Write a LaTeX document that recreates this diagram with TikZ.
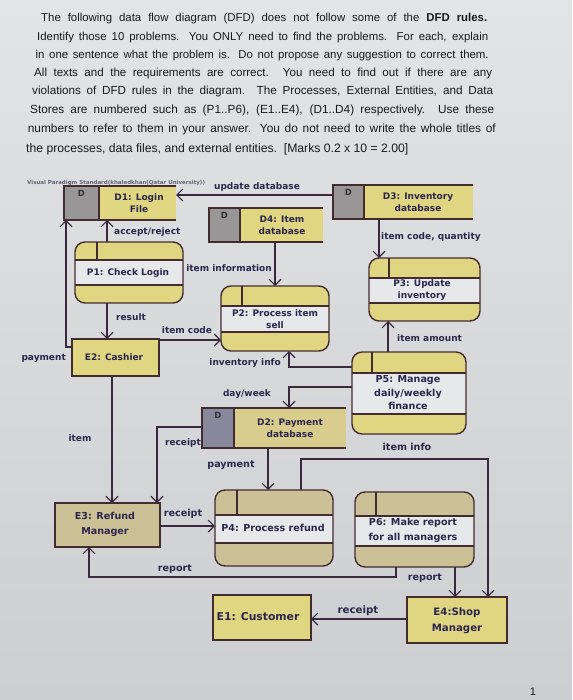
\documentclass[tikz,border=0pt]{standalone}
\usepackage{fontspec}
\setmainfont{Liberation Sans}
\newfontfamily\dfdfont{DejaVu Sans}
\usetikzlibrary{arrows.meta,fit}
\definecolor{pagetop}{RGB}{226,228,229}
\definecolor{pagebot}{RGB}{204,206,209}
\definecolor{hdrc}{RGB}{24,24,30}
\definecolor{linec}{RGB}{58,40,62}
\definecolor{labc}{RGB}{44,38,78}
\definecolor{boxl}{RGB}{66,44,48}
\definecolor{yel}{RGB}{224,213,128}
\definecolor{yel2}{RGB}{216,205,140}
\definecolor{tanc}{RGB}{204,193,150}
\definecolor{midc}{RGB}{230,232,234}
\definecolor{dgray}{RGB}{152,150,150}
\definecolor{dgray2}{RGB}{136,136,156}
\tikzset{
 hdr/.style={font=\fontsize{#1}{14}\selectfont, text=hdrc, inner sep=0, anchor=base west},
 lbl/.style={font=\dfdfont\bfseries\fontsize{9}{12}\selectfont, text=labc, inner sep=0},
 lblL/.style={font=\dfdfont\bfseries\fontsize{9.6}{15}\selectfont, text=labc, inner sep=0},
 lblX/.style={font=\dfdfont\bfseries\fontsize{10.2}{16}\selectfont, text=labc, inner sep=0},
 ntext/.style={lbl, align=center},
 ntextL/.style={lblL, align=center},
 ntextX/.style={lblX, align=center},
 flow/.style={draw=linec, line width=1.1pt, -{Straight Barb[length=6pt,width=12pt]}},
 boxline/.style={draw=boxl, line width=1.4pt},
 area/.style={inner sep=0, outer sep=0},
}
\newcommand\dfdent[6]{\node[area, boxline, fill=#6, fit={(#2,#3) (#4,#5)}] (#1) {};}
\newcommand\dfdstore[8]{%
 \node[area, fill=#8, fit={(#2,#3) (#4,#5)}] (#1) {};
 \fill[#7] (#2,#3) rectangle (#6,#5);
 \draw[boxline] (#4,#3) -- (#2,#3) -- (#2,#5) -- (#4,#5) (#6,#3) -- (#6,#5);
 \node[lbl, font=\dfdfont\bfseries\fontsize{8.5}{9}\selectfont, text=black!80] (#1d) at ({(#2+#6)/2},{#3+7}) {D};
}
\newcommand\dfdproc[9]{%
 \node[area, fit={(#2,#3) (#4,#5)}] (#1) {};
 \fill[#9, rounded corners=10pt] (#2,#3) rectangle (#4,#5);
 \fill[midc] (#2,#6) rectangle (#4,#7);
 \draw[boxline] (#2,#6) -- (#4,#6) (#2,#7) -- (#4,#7) (#8,#3) -- (#8,#6);
 \draw[boxline, rounded corners=10pt] (#2,#3) rectangle (#4,#5);
}
\begin{document}
\begin{tikzpicture}[x=1pt,y=-1pt]
\useasboundingbox (0,0) rectangle (572,700);
\shade[top color=pagetop, bottom color=pagebot] (0,0) rectangle (572,700);

% header text
\node[hdr=11.4] (h1) at (41,22) {\makebox[446pt][s]{The following data flow diagram (DFD) does not follow some of the \textbf{DFD rules.}}};
\node[hdr=11.4] (h2) at (37,41) {\makebox[451pt][s]{Identify those 10 problems. You ONLY need to find the problems. For each, explain}};
\node[hdr=11.4] (h3) at (35.5,59) {\makebox[453pt][s]{in one sentence what the problem is. Do not propose any suggestion to correct them.}};
\node[hdr=11.6] (h4) at (34,77) {\makebox[458pt][s]{All texts and the requirements are correct. You need to find out if there are any}};
\node[hdr=11.7] (h5) at (32,95) {\makebox[461pt][s]{violations of DFD rules in the diagram. The Processes, External Entities, and Data}};
\node[hdr=11.8] (h6) at (30,114) {\makebox[464pt][s]{Stores are numbered such as (P1..P6), (E1..E4), (D1..D4) respectively. Use these}};
\node[hdr=11.9] (h7) at (27.6,133) {\makebox[468pt][s]{numbers to refer to them in your answer. You do not need to write the whole titles of}};
\node[hdr=12.2] (h8) at (26,153) {the processes, data files, and external entities.\ \ [Marks 0.2 x 10 = 2.00]};

% data stores
\dfdstore{D1}{64}{186}{176}{220}{99}{dgray}{yel}
\dfdstore{D4}{209}{208}{323}{242}{240}{dgray}{yel}
\dfdstore{D3}{333}{185}{473}{219}{364}{dgray}{yel}
\dfdstore{D2}{202}{408}{346}{448}{234}{dgray2}{yel2}

% processes
\dfdproc{P1}{75}{242}{183}{303}{260}{285}{97}{yel}
\dfdproc{P2}{221}{286}{329}{351}{306}{332}{242}{yel}
\dfdproc{P3}{369}{258}{480}{321}{278}{303}{389}{yel}
\dfdproc{P5}{352}{352}{466}{434}{373}{414}{372}{yel}
\dfdproc{P4}{215}{490}{333}{566}{515}{543}{237}{tanc}
\dfdproc{P6}{355}{492}{474}{567}{516}{546}{376}{tanc}

% external entities
\dfdent{E2}{72}{339}{159}{376}{yel}
\dfdent{E3}{55}{503}{160}{547}{tanc}
\dfdent{E1}{213}{595}{311}{640}{yel}
\dfdent{E4}{407}{597}{507}{643}{yel}

% node texts
\node[ntext] (D1t) at (139,203) {D1: Login\\File};
\node[ntext] (D4t) at (282,225) {D4: Item\\database};
\node[ntext] (D3t) at (418,202) {D3: Inventory\\database};
\node[ntext] (D2t) at (290,428) {D2: Payment\\database};
\node[ntext] (P1t) at (128,273) {P1: Check Login};
\node[ntext] (P2t) at (275,319) {P2: Process item\\sell};
\node[ntext] (P3t) at (422,290) {P3: Update\\inventory};
\node[ntext, font=\dfdfont\bfseries\fontsize{9.6}{13.5}\selectfont] (P5t) at (408,393) {P5: Manage\\daily/weekly\\finance};
\node[ntextL] (P4t) at (273,528) {P4: Process refund};
\node[ntextL] (P6t) at (413,530) {P6: Make report\\for all managers};
\node[ntext] (E2t) at (114,357) {E2: Cashier};
\node[ntextL] (E3t) at (105,524) {E3: Refund\\Manager};
\node[ntextX, font=\dfdfont\bfseries\fontsize{10.8}{16}\selectfont] (E1t) at (258,617) {E1: Customer};
\node[ntextX] (E4t) at (457,621) {E4:Shop\\Manager};

% flows
\draw[flow] (D3.west |- 0,195) -- (D1.east |- 0,195);
\draw[flow] (P1.north -| 107,0) -- (D1.south -| 107,0);
\draw[flow] (E2.west |- 0,347) -- (66,347) -- (D1.south -| 66,0);
\draw[flow] (P1.south -| 107,0) -- (E2.north -| 107,0);
\draw[flow] (E2.east |- 0,340) -- (P2.west |- 0,340);
\draw[flow] (D4.south -| 275,0) -- (P2.north -| 275,0);
\draw[flow] (P5.west |- 0,367) -- (289,367) -- (P2.south -| 289,0);
\draw[flow] (P5.west |- 0,387) -- (289,387) -- (D2.north -| 289,0);
\draw[flow] (D2.west |- 0,427) -- (157,427) -- (E3.north -| 157,0);
\draw[flow] (E2.south -| 112,0) -- (E3.north -| 112,0);
\draw[flow] (E3.east |- 0,526) -- (P4.west |- 0,526);
\draw[flow] (D2.south -| 268,0) -- (P4.north -| 268,0);
\draw[flow] (P4.north -| 301,0) -- (301,459) -- (488,459) -- (E4.north -| 488,0);
\draw[flow] (P6.south -| 455,0) -- (E4.north -| 455,0);
\draw[flow] (P6.south -| 396,0) -- (396,577) -- (89,577) -- (E3.south -| 89,0);
\draw[flow] (E4.west |- 0,619) -- (E1.east |- 0,619);
\draw[flow] (P5.north -| 388,0) -- (P3.south -| 388,0);
\draw[flow] (D3.south -| 379,0) -- (P3.north -| 379,0);

% flow labels
\node[lbl] (l1) at (257,187) {update database};
\node[lbl, anchor=west] (l2) at (114,232) {accept/reject};
\node[lbl, anchor=east] (l3) at (272,268) {item information};
\node[lbl, anchor=west] (l4) at (116,317) {result};
\node[lbl] (l5) at (187,330) {item code};
\node[lbl, anchor=east] (l6) at (66,358) {payment};
\node[lbl, anchor=east] (l7) at (281,363) {inventory info};
\node[lbl] (l8) at (247,394) {day/week};
\node[lbl] (l9) at (80,438) {item};
\node[lbl] (l10) at (183,443) {receipt};
\node[lblL] (l11) at (231,465) {payment};
\node[lblL] (l12) at (407,447) {item info};
\node[lblL] (l13) at (183,514) {receipt};
\node[lblL] (l14) at (175,569) {report};
\node[lblL] (l15) at (425,578) {report};
\node[lblX] (l16) at (358,611) {receipt};
\node[lbl, anchor=west] (l17) at (381,237) {item code, quantity};
\node[lbl, anchor=west] (l18) at (397,338) {item amount};

% watermark and page number
\node[font=\dfdfont\bfseries\fontsize{5.5}{6}\selectfont, text={rgb,255:red,100;green,100;blue,118}, anchor=west, inner sep=0] (wm) at (27,183) {Visual Paradigm Standard(khaledkhan(Qatar University))};
\node[font=\fontsize{11}{13}\selectfont, text=hdrc, inner sep=0] (pg) at (533,692) {1};
\end{tikzpicture}
\end{document}
